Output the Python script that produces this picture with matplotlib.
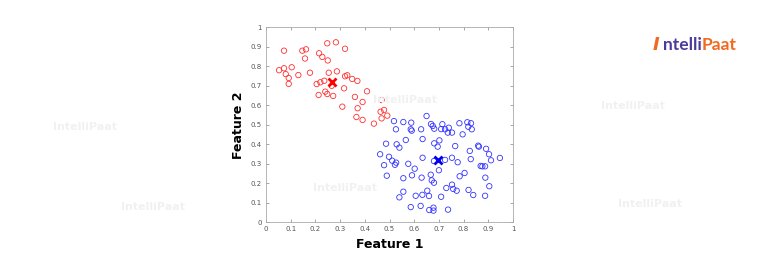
import matplotlib.pyplot as plt
import numpy as np

# cluster 1 (red)
red_x = [0.053, 0.073, 0.073, 0.08, 0.092, 0.092, 0.104, 0.131, 0.147, 0.162, 0.158, 0.178,
         0.215, 0.228, 0.25, 0.248, 0.283, 0.32, 0.205, 0.22, 0.236, 0.254, 0.266, 0.287,
         0.213, 0.24, 0.248, 0.272, 0.32, 0.329, 0.316, 0.349, 0.37, 0.409, 0.36, 0.371,
         0.391, 0.309, 0.366, 0.391, 0.437, 0.468, 0.464, 0.478, 0.491, 0.468]
red_y = [0.78, 0.88, 0.79, 0.76, 0.74, 0.71, 0.795, 0.755, 0.88, 0.887, 0.84, 0.767,
         0.867, 0.848, 0.83, 0.918, 0.923, 0.89, 0.709, 0.718, 0.726, 0.767, 0.70, 0.774,
         0.653, 0.67, 0.658, 0.648, 0.749, 0.754, 0.687, 0.735, 0.725, 0.672, 0.643, 0.585,
         0.617, 0.593, 0.54, 0.525, 0.506, 0.627, 0.567, 0.576, 0.547, 0.533]

# cluster 2 (blue)
blue_x = [0.65, 0.518, 0.556, 0.588, 0.526, 0.586, 0.59, 0.628, 0.668, 0.675, 0.681, 0.714,
          0.709, 0.725, 0.74, 0.736, 0.753, 0.783, 0.815, 0.83, 0.819, 0.833, 0.796, 0.486,
          0.529, 0.54, 0.566, 0.634, 0.681, 0.702, 0.695, 0.766, 0.825, 0.862, 0.859, 0.891,
          0.903, 0.911, 0.947, 0.462, 0.498, 0.511, 0.527, 0.522, 0.478, 0.576, 0.634, 0.68,
          0.725, 0.753, 0.776, 0.829, 0.602, 0.70, 0.869, 0.876, 0.887, 0.489, 0.556, 0.591,
          0.63, 0.667, 0.671, 0.68, 0.784, 0.804, 0.888, 0.753, 0.73, 0.758, 0.772, 0.82,
          0.839, 0.904, 0.887, 0.556, 0.54, 0.606, 0.633, 0.653, 0.66, 0.709, 0.586, 0.626,
          0.661, 0.678, 0.678, 0.737]
blue_y = [0.545, 0.519, 0.514, 0.511, 0.477, 0.477, 0.47, 0.477, 0.504, 0.494, 0.48, 0.503,
          0.478, 0.477, 0.485, 0.46, 0.46, 0.508, 0.513, 0.508, 0.49, 0.477, 0.451, 0.403,
          0.40, 0.383, 0.422, 0.427, 0.405, 0.42, 0.388, 0.391, 0.366, 0.388, 0.393, 0.377,
          0.349, 0.318, 0.33, 0.349, 0.336, 0.316, 0.306, 0.295, 0.293, 0.30, 0.331, 0.314,
          0.32, 0.331, 0.308, 0.324, 0.275, 0.267, 0.289, 0.287, 0.287, 0.239, 0.226, 0.241,
          0.229, 0.244, 0.215, 0.203, 0.236, 0.253, 0.229, 0.193, 0.176, 0.171, 0.162, 0.166,
          0.14, 0.185, 0.136, 0.157, 0.128, 0.136, 0.141, 0.162, 0.135, 0.131, 0.078, 0.084,
          0.063, 0.075, 0.06, 0.065]

centroid_x = [0.266, 0.695]
centroid_y = [0.72, 0.318]
ticks = [0, 0.1, 0.2, 0.3, 0.4, 0.5, 0.6, 0.7, 0.8, 0.9, 1]
tick_labels = ['0', '0.1', '0.2', '0.3', '0.4', '0.5', '0.6', '0.7', '0.8', '0.9', '1']

fig = plt.figure(figsize=(7.68, 2.6), dpi=100)

# very faint watermarks behind everything
for wx, wy in [(85, 127), (153, 207), (405, 100), (345, 188), (633, 106), (650, 204)]:
    fig.text(wx / 768, 1 - wy / 260, 'IntelliPaat', color='#f1f1f1', fontsize=8,
             fontweight='bold', ha='center', va='center', zorder=0)

ax = fig.add_axes([266 / 768, 1 - 222.3 / 260, 247 / 768, 195 / 260])
ax.patch.set_alpha(0)

ax.scatter(red_x, red_y, s=15, facecolors='none', edgecolors='#ff3030', linewidths=0.6)
ax.scatter(blue_x, blue_y, s=15, facecolors='none', edgecolors='#3333ff', linewidths=0.6)
ax.plot(centroid_x[0], centroid_y[0], 'x', color='#ff0000', markersize=6, mew=2)
ax.plot(centroid_x[1], centroid_y[1], 'x', color='#0000ee', markersize=6, mew=2)

ax.set_xlim(0, 1)
ax.set_ylim(0, 1)
ax.set_xticks(ticks)
ax.set_yticks(ticks)
ax.set_xticklabels(tick_labels)
ax.set_yticklabels(tick_labels)
ax.tick_params(direction='in', length=2.5, width=0.6, labelsize=5, colors='#999999',
               labelcolor='#555555', top=True, right=True, pad=3)
for sp in ax.spines.values():
    sp.set_color('#aaaaaa')
    sp.set_linewidth(0.6)

ax.set_xlabel('Feature 1', fontsize=9, fontweight='bold', labelpad=4)
ax.set_ylabel('Feature 2', fontsize=9, fontweight='bold', labelpad=4)

# logo top right
fig.text(653 / 768, 1 - 45 / 260, 'I', color='#f26a21', fontsize=13, fontweight='bold',
         ha='left', va='center', style='italic')
fig.text(702 / 768, 1 - 45 / 260, 'ntelli', color='#4b3c9c', fontsize=12.5, fontweight='bold',
         ha='right', va='center', family='Lato')
fig.text(702 / 768, 1 - 45 / 260, 'Paat', color='#f26a21', fontsize=12.5, fontweight='bold',
         ha='left', va='center', family='Lato')

fig.savefig('out.png', dpi=100)
